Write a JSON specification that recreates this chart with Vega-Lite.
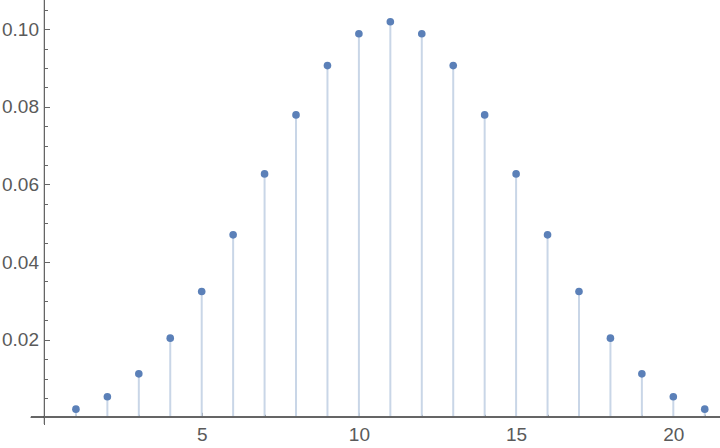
{
  "$schema": "https://vega.github.io/schema/vega-lite/v6.json",
  "width": 720,
  "height": 448,
  "padding": 0,
  "autosize": {"type": "none"},
  "background": "white",
  "config": {"view": {"stroke": null}},
  "data": {"values": [
    {"k": 1, "p": 0.0021}, {"k": 2, "p": 0.0053}, {"k": 3, "p": 0.0112},
    {"k": 4, "p": 0.0204}, {"k": 5, "p": 0.0324}, {"k": 6, "p": 0.0470},
    {"k": 7, "p": 0.0627}, {"k": 8, "p": 0.0779}, {"k": 9, "p": 0.0906},
    {"k": 10, "p": 0.0988}, {"k": 11, "p": 0.1019}, {"k": 12, "p": 0.0988},
    {"k": 13, "p": 0.0906}, {"k": 14, "p": 0.0779}, {"k": 15, "p": 0.0627},
    {"k": 16, "p": 0.0470}, {"k": 17, "p": 0.0324}, {"k": 18, "p": 0.0204},
    {"k": 19, "p": 0.0112}, {"k": 20, "p": 0.0053}, {"k": 21, "p": 0.0021}
  ]},
  "resolve": {"axis": {"x": "independent", "y": "independent"}},
  "layer": [
    {
      "mark": {"type": "rule", "color": "#c9d6e7", "strokeWidth": 2},
      "encoding": {
        "x": {"field": "k", "type": "quantitative",
              "scale": {"domain": [-1.415, 21.485], "nice": false, "zero": false},
              "axis": {"orient": "bottom", "offset": -30.7, "values": [5, 10, 15, 20], "domain": false,
                       "tickSize": -5, "tickColor": "#666666", "tickWidth": 1, "labelPadding": 13,
                       "labelFont": "Liberation Sans", "labelFontSize": 19, "labelColor": "#5a5a5a",
                       "title": null, "grid": false}},
        "y": {"field": "p", "type": "quantitative",
              "scale": {"domain": [-0.0079, 0.1075], "nice": false, "zero": false},
              "axis": {"orient": "left", "offset": -44.5, "values": [0.02, 0.04, 0.06, 0.08, 0.10], "format": ".2f",
                       "domain": false, "tickSize": -5, "tickColor": "#666666", "tickWidth": 1, "labelPadding": 11,
                       "labelFont": "Liberation Sans", "labelFontSize": 19, "labelColor": "#5a5a5a",
                       "title": null, "grid": false}},
        "y2": {"datum": 0}
      }
    },
    {
      "mark": {"type": "rule", "color": "#666666", "strokeWidth": 1},
      "encoding": {
        "x": {"datum": -0.43, "type": "quantitative", "axis": {"orient": "bottom", "offset": -30.7, "values": [1,2,3,4,6,7,8,9,11,12,13,14,16,17,18,19,21], "domain": false, "labels": false, "tickSize": -3, "tickColor": "#666666", "title": null, "grid": false}},
        "x2": {"datum": 21.485},
        "y": {"datum": 0, "type": "quantitative", "axis": {"orient": "left", "offset": -44.5, "values": [0.005,0.01,0.015,0.025,0.03,0.035,0.045,0.05,0.055,0.065,0.07,0.075,0.085,0.09,0.095,0.105], "domain": false, "labels": false, "tickSize": -3, "tickColor": "#666666", "title": null, "grid": false}}
      }
    },
    {
      "mark": {"type": "rule", "color": "#666666", "strokeWidth": 1},
      "encoding": {
        "x": {"datum": 0, "type": "quantitative", "axis": null},
        "y": {"datum": -0.0018, "type": "quantitative", "axis": null},
        "y2": {"datum": 0.1075}
      }
    },
    {
      "mark": {"type": "point", "filled": true, "opacity": 1, "color": "#5b80b8", "size": 58},
      "encoding": {
        "x": {"field": "k", "type": "quantitative", "axis": null},
        "y": {"field": "p", "type": "quantitative", "axis": null}
      }
    }
  ]
}
